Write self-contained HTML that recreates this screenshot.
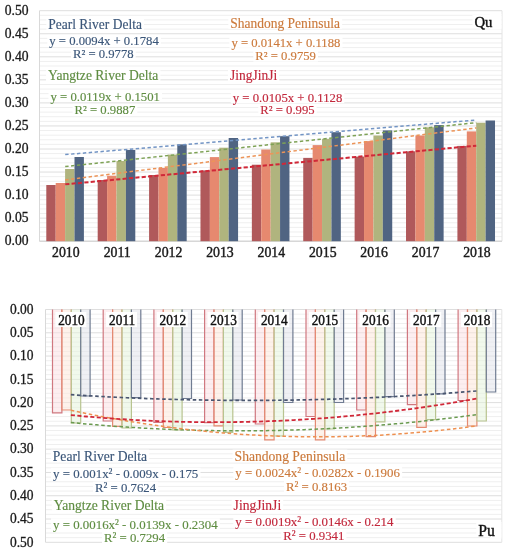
<!DOCTYPE html>
<html><head><meta charset="utf-8"><style>
html,body{margin:0;padding:0;background:#fff;}
svg{display:block;font-family:"Liberation Serif", serif;filter:blur(0.35px);}
.s{stroke-width:0.3px;}
</style></head><body>
<svg width="510" height="550" viewBox="0 0 510 550">
<rect width="510" height="550" fill="#fff"/>
<g id="top">
<line x1="39.5" x2="502.0" y1="241.20" y2="241.20" stroke="#dedede" stroke-width="1"/>
<line x1="39.5" x2="502.0" y1="236.59" y2="236.59" stroke="#efefef" stroke-width="1"/>
<line x1="39.5" x2="502.0" y1="231.98" y2="231.98" stroke="#efefef" stroke-width="1"/>
<line x1="39.5" x2="502.0" y1="227.37" y2="227.37" stroke="#efefef" stroke-width="1"/>
<line x1="39.5" x2="502.0" y1="222.76" y2="222.76" stroke="#efefef" stroke-width="1"/>
<line x1="39.5" x2="502.0" y1="218.15" y2="218.15" stroke="#dedede" stroke-width="1"/>
<line x1="39.5" x2="502.0" y1="213.54" y2="213.54" stroke="#efefef" stroke-width="1"/>
<line x1="39.5" x2="502.0" y1="208.93" y2="208.93" stroke="#efefef" stroke-width="1"/>
<line x1="39.5" x2="502.0" y1="204.32" y2="204.32" stroke="#efefef" stroke-width="1"/>
<line x1="39.5" x2="502.0" y1="199.71" y2="199.71" stroke="#efefef" stroke-width="1"/>
<line x1="39.5" x2="502.0" y1="195.10" y2="195.10" stroke="#dedede" stroke-width="1"/>
<line x1="39.5" x2="502.0" y1="190.49" y2="190.49" stroke="#efefef" stroke-width="1"/>
<line x1="39.5" x2="502.0" y1="185.88" y2="185.88" stroke="#efefef" stroke-width="1"/>
<line x1="39.5" x2="502.0" y1="181.27" y2="181.27" stroke="#efefef" stroke-width="1"/>
<line x1="39.5" x2="502.0" y1="176.66" y2="176.66" stroke="#efefef" stroke-width="1"/>
<line x1="39.5" x2="502.0" y1="172.05" y2="172.05" stroke="#dedede" stroke-width="1"/>
<line x1="39.5" x2="502.0" y1="167.44" y2="167.44" stroke="#efefef" stroke-width="1"/>
<line x1="39.5" x2="502.0" y1="162.83" y2="162.83" stroke="#efefef" stroke-width="1"/>
<line x1="39.5" x2="502.0" y1="158.22" y2="158.22" stroke="#efefef" stroke-width="1"/>
<line x1="39.5" x2="502.0" y1="153.61" y2="153.61" stroke="#efefef" stroke-width="1"/>
<line x1="39.5" x2="502.0" y1="149.00" y2="149.00" stroke="#dedede" stroke-width="1"/>
<line x1="39.5" x2="502.0" y1="144.39" y2="144.39" stroke="#efefef" stroke-width="1"/>
<line x1="39.5" x2="502.0" y1="139.78" y2="139.78" stroke="#efefef" stroke-width="1"/>
<line x1="39.5" x2="502.0" y1="135.17" y2="135.17" stroke="#efefef" stroke-width="1"/>
<line x1="39.5" x2="502.0" y1="130.56" y2="130.56" stroke="#efefef" stroke-width="1"/>
<line x1="39.5" x2="502.0" y1="125.95" y2="125.95" stroke="#dedede" stroke-width="1"/>
<line x1="39.5" x2="502.0" y1="121.34" y2="121.34" stroke="#efefef" stroke-width="1"/>
<line x1="39.5" x2="502.0" y1="116.73" y2="116.73" stroke="#efefef" stroke-width="1"/>
<line x1="39.5" x2="502.0" y1="112.12" y2="112.12" stroke="#efefef" stroke-width="1"/>
<line x1="39.5" x2="502.0" y1="107.51" y2="107.51" stroke="#efefef" stroke-width="1"/>
<line x1="39.5" x2="502.0" y1="102.90" y2="102.90" stroke="#dedede" stroke-width="1"/>
<line x1="39.5" x2="502.0" y1="98.29" y2="98.29" stroke="#efefef" stroke-width="1"/>
<line x1="39.5" x2="502.0" y1="93.68" y2="93.68" stroke="#efefef" stroke-width="1"/>
<line x1="39.5" x2="502.0" y1="89.07" y2="89.07" stroke="#efefef" stroke-width="1"/>
<line x1="39.5" x2="502.0" y1="84.46" y2="84.46" stroke="#efefef" stroke-width="1"/>
<line x1="39.5" x2="502.0" y1="79.85" y2="79.85" stroke="#dedede" stroke-width="1"/>
<line x1="39.5" x2="502.0" y1="75.24" y2="75.24" stroke="#efefef" stroke-width="1"/>
<line x1="39.5" x2="502.0" y1="70.63" y2="70.63" stroke="#efefef" stroke-width="1"/>
<line x1="39.5" x2="502.0" y1="66.02" y2="66.02" stroke="#efefef" stroke-width="1"/>
<line x1="39.5" x2="502.0" y1="61.41" y2="61.41" stroke="#efefef" stroke-width="1"/>
<line x1="39.5" x2="502.0" y1="56.80" y2="56.80" stroke="#dedede" stroke-width="1"/>
<line x1="39.5" x2="502.0" y1="52.19" y2="52.19" stroke="#efefef" stroke-width="1"/>
<line x1="39.5" x2="502.0" y1="47.58" y2="47.58" stroke="#efefef" stroke-width="1"/>
<line x1="39.5" x2="502.0" y1="42.97" y2="42.97" stroke="#efefef" stroke-width="1"/>
<line x1="39.5" x2="502.0" y1="38.36" y2="38.36" stroke="#efefef" stroke-width="1"/>
<line x1="39.5" x2="502.0" y1="33.75" y2="33.75" stroke="#dedede" stroke-width="1"/>
<line x1="39.5" x2="502.0" y1="29.14" y2="29.14" stroke="#efefef" stroke-width="1"/>
<line x1="39.5" x2="502.0" y1="24.53" y2="24.53" stroke="#efefef" stroke-width="1"/>
<line x1="39.5" x2="502.0" y1="19.92" y2="19.92" stroke="#efefef" stroke-width="1"/>
<line x1="39.5" x2="502.0" y1="15.31" y2="15.31" stroke="#efefef" stroke-width="1"/>
<line x1="39.5" x2="502.0" y1="10.70" y2="10.70" stroke="#dedede" stroke-width="1"/>
<line x1="39.5" x2="39.5" y1="10.7" y2="241.2" stroke="#d9d9d9" stroke-width="1"/>
<line x1="502.0" x2="502.0" y1="10.7" y2="241.2" stroke="#e4e4e4" stroke-width="1"/>
<line x1="39.5" x2="502.0" y1="241.2" y2="241.2" stroke="#d0d0d0" stroke-width="1"/>
<rect x="46.30" y="185.00" width="9.40" height="56.20" fill="#b0595b"/>
<rect x="55.70" y="183.00" width="9.40" height="58.20" fill="#e6896f"/>
<rect x="65.10" y="169.00" width="9.40" height="72.20" fill="#b0b47e"/>
<rect x="74.50" y="157.00" width="9.40" height="84.20" fill="#506482"/>
<rect x="97.69" y="180.00" width="9.40" height="61.20" fill="#b0595b"/>
<rect x="107.09" y="175.70" width="9.40" height="65.50" fill="#e6896f"/>
<rect x="116.49" y="161.00" width="9.40" height="80.20" fill="#b0b47e"/>
<rect x="125.89" y="150.00" width="9.40" height="91.20" fill="#506482"/>
<rect x="149.08" y="175.00" width="9.40" height="66.20" fill="#b0595b"/>
<rect x="158.48" y="168.00" width="9.40" height="73.20" fill="#e6896f"/>
<rect x="167.88" y="154.60" width="9.40" height="86.60" fill="#b0b47e"/>
<rect x="177.28" y="144.40" width="9.40" height="96.80" fill="#506482"/>
<rect x="200.47" y="170.40" width="9.40" height="70.80" fill="#b0595b"/>
<rect x="209.87" y="157.10" width="9.40" height="84.10" fill="#e6896f"/>
<rect x="219.27" y="147.70" width="9.40" height="93.50" fill="#b0b47e"/>
<rect x="228.67" y="138.00" width="9.40" height="103.20" fill="#506482"/>
<rect x="251.86" y="164.70" width="9.40" height="76.50" fill="#b0595b"/>
<rect x="261.26" y="149.50" width="9.40" height="91.70" fill="#e6896f"/>
<rect x="270.66" y="142.30" width="9.40" height="98.90" fill="#b0b47e"/>
<rect x="280.06" y="136.20" width="9.40" height="105.00" fill="#506482"/>
<rect x="303.24" y="157.90" width="9.40" height="83.30" fill="#b0595b"/>
<rect x="312.64" y="145.10" width="9.40" height="96.10" fill="#e6896f"/>
<rect x="322.04" y="138.80" width="9.40" height="102.40" fill="#b0b47e"/>
<rect x="331.44" y="132.20" width="9.40" height="109.00" fill="#506482"/>
<rect x="354.63" y="156.60" width="9.40" height="84.60" fill="#b0595b"/>
<rect x="364.03" y="141.10" width="9.40" height="100.10" fill="#e6896f"/>
<rect x="373.43" y="135.50" width="9.40" height="105.70" fill="#b0b47e"/>
<rect x="382.83" y="130.40" width="9.40" height="110.80" fill="#506482"/>
<rect x="406.02" y="151.30" width="9.40" height="89.90" fill="#b0595b"/>
<rect x="415.42" y="135.50" width="9.40" height="105.70" fill="#e6896f"/>
<rect x="424.82" y="127.30" width="9.40" height="113.90" fill="#b0b47e"/>
<rect x="434.22" y="125.10" width="9.40" height="116.10" fill="#506482"/>
<rect x="457.41" y="145.90" width="9.40" height="95.30" fill="#b0595b"/>
<rect x="466.81" y="131.40" width="9.40" height="109.80" fill="#e6896f"/>
<rect x="476.21" y="122.70" width="9.40" height="118.50" fill="#b0b47e"/>
<rect x="485.61" y="120.50" width="9.40" height="120.70" fill="#506482"/>
<line x1="65.19" y1="154.62" x2="476.31" y2="119.96" stroke="#7294c4" stroke-width="1.5" stroke-dasharray="3.4 2.5"/>
<line x1="65.19" y1="166.52" x2="476.31" y2="122.63" stroke="#7ea256" stroke-width="1.5" stroke-dasharray="3.4 2.5"/>
<line x1="65.19" y1="179.93" x2="476.31" y2="127.93" stroke="#ec9458" stroke-width="1.5" stroke-dasharray="3.4 2.5"/>
<line x1="65.19" y1="184.36" x2="476.31" y2="145.63" stroke="#d02838" stroke-width="2.0" stroke-dasharray="4.2 2.2"/>
<text transform="translate(28.6 245.10) scale(1 1.04)" text-anchor="end" font-size="13.6" fill="#1a1a1a" stroke="#1a1a1a" class="s">0.00</text>
<text transform="translate(28.6 222.05) scale(1 1.04)" text-anchor="end" font-size="13.6" fill="#1a1a1a" stroke="#1a1a1a" class="s">0.05</text>
<text transform="translate(28.6 199.00) scale(1 1.04)" text-anchor="end" font-size="13.6" fill="#1a1a1a" stroke="#1a1a1a" class="s">0.10</text>
<text transform="translate(28.6 175.95) scale(1 1.04)" text-anchor="end" font-size="13.6" fill="#1a1a1a" stroke="#1a1a1a" class="s">0.15</text>
<text transform="translate(28.6 152.90) scale(1 1.04)" text-anchor="end" font-size="13.6" fill="#1a1a1a" stroke="#1a1a1a" class="s">0.20</text>
<text transform="translate(28.6 129.85) scale(1 1.04)" text-anchor="end" font-size="13.6" fill="#1a1a1a" stroke="#1a1a1a" class="s">0.25</text>
<text transform="translate(28.6 106.80) scale(1 1.04)" text-anchor="end" font-size="13.6" fill="#1a1a1a" stroke="#1a1a1a" class="s">0.30</text>
<text transform="translate(28.6 83.75) scale(1 1.04)" text-anchor="end" font-size="13.6" fill="#1a1a1a" stroke="#1a1a1a" class="s">0.35</text>
<text transform="translate(28.6 60.70) scale(1 1.04)" text-anchor="end" font-size="13.6" fill="#1a1a1a" stroke="#1a1a1a" class="s">0.40</text>
<text transform="translate(28.6 37.65) scale(1 1.04)" text-anchor="end" font-size="13.6" fill="#1a1a1a" stroke="#1a1a1a" class="s">0.45</text>
<text transform="translate(28.6 14.60) scale(1 1.04)" text-anchor="end" font-size="13.6" fill="#1a1a1a" stroke="#1a1a1a" class="s">0.50</text>
<text transform="translate(65.79 257) scale(1 1.04)" text-anchor="middle" font-size="13.8" fill="#1a1a1a" stroke="#1a1a1a" style="stroke-width:0.4px">2010</text>
<text transform="translate(117.18 257) scale(1 1.04)" text-anchor="middle" font-size="13.8" fill="#1a1a1a" stroke="#1a1a1a" style="stroke-width:0.4px">2011</text>
<text transform="translate(168.57 257) scale(1 1.04)" text-anchor="middle" font-size="13.8" fill="#1a1a1a" stroke="#1a1a1a" style="stroke-width:0.4px">2012</text>
<text transform="translate(219.96 257) scale(1 1.04)" text-anchor="middle" font-size="13.8" fill="#1a1a1a" stroke="#1a1a1a" style="stroke-width:0.4px">2013</text>
<text transform="translate(271.35 257) scale(1 1.04)" text-anchor="middle" font-size="13.8" fill="#1a1a1a" stroke="#1a1a1a" style="stroke-width:0.4px">2014</text>
<text transform="translate(322.74 257) scale(1 1.04)" text-anchor="middle" font-size="13.8" fill="#1a1a1a" stroke="#1a1a1a" style="stroke-width:0.4px">2015</text>
<text transform="translate(374.13 257) scale(1 1.04)" text-anchor="middle" font-size="13.8" fill="#1a1a1a" stroke="#1a1a1a" style="stroke-width:0.4px">2016</text>
<text transform="translate(425.52 257) scale(1 1.04)" text-anchor="middle" font-size="13.8" fill="#1a1a1a" stroke="#1a1a1a" style="stroke-width:0.4px">2017</text>
<text transform="translate(476.91 257) scale(1 1.04)" text-anchor="middle" font-size="13.8" fill="#1a1a1a" stroke="#1a1a1a" style="stroke-width:0.4px">2018</text>
</g>
<g id="bottom">
<line x1="45.5" x2="501.8" y1="309.50" y2="309.50" stroke="#dedede" stroke-width="1"/>
<line x1="45.5" x2="501.8" y1="314.16" y2="314.16" stroke="#efefef" stroke-width="1"/>
<line x1="45.5" x2="501.8" y1="318.81" y2="318.81" stroke="#efefef" stroke-width="1"/>
<line x1="45.5" x2="501.8" y1="323.47" y2="323.47" stroke="#efefef" stroke-width="1"/>
<line x1="45.5" x2="501.8" y1="328.12" y2="328.12" stroke="#efefef" stroke-width="1"/>
<line x1="45.5" x2="501.8" y1="332.78" y2="332.78" stroke="#dedede" stroke-width="1"/>
<line x1="45.5" x2="501.8" y1="337.44" y2="337.44" stroke="#efefef" stroke-width="1"/>
<line x1="45.5" x2="501.8" y1="342.09" y2="342.09" stroke="#efefef" stroke-width="1"/>
<line x1="45.5" x2="501.8" y1="346.75" y2="346.75" stroke="#efefef" stroke-width="1"/>
<line x1="45.5" x2="501.8" y1="351.40" y2="351.40" stroke="#efefef" stroke-width="1"/>
<line x1="45.5" x2="501.8" y1="356.06" y2="356.06" stroke="#dedede" stroke-width="1"/>
<line x1="45.5" x2="501.8" y1="360.72" y2="360.72" stroke="#efefef" stroke-width="1"/>
<line x1="45.5" x2="501.8" y1="365.37" y2="365.37" stroke="#efefef" stroke-width="1"/>
<line x1="45.5" x2="501.8" y1="370.03" y2="370.03" stroke="#efefef" stroke-width="1"/>
<line x1="45.5" x2="501.8" y1="374.68" y2="374.68" stroke="#efefef" stroke-width="1"/>
<line x1="45.5" x2="501.8" y1="379.34" y2="379.34" stroke="#dedede" stroke-width="1"/>
<line x1="45.5" x2="501.8" y1="384.00" y2="384.00" stroke="#efefef" stroke-width="1"/>
<line x1="45.5" x2="501.8" y1="388.65" y2="388.65" stroke="#efefef" stroke-width="1"/>
<line x1="45.5" x2="501.8" y1="393.31" y2="393.31" stroke="#efefef" stroke-width="1"/>
<line x1="45.5" x2="501.8" y1="397.96" y2="397.96" stroke="#efefef" stroke-width="1"/>
<line x1="45.5" x2="501.8" y1="402.62" y2="402.62" stroke="#dedede" stroke-width="1"/>
<line x1="45.5" x2="501.8" y1="407.28" y2="407.28" stroke="#efefef" stroke-width="1"/>
<line x1="45.5" x2="501.8" y1="411.93" y2="411.93" stroke="#efefef" stroke-width="1"/>
<line x1="45.5" x2="501.8" y1="416.59" y2="416.59" stroke="#efefef" stroke-width="1"/>
<line x1="45.5" x2="501.8" y1="421.24" y2="421.24" stroke="#efefef" stroke-width="1"/>
<line x1="45.5" x2="501.8" y1="425.90" y2="425.90" stroke="#dedede" stroke-width="1"/>
<line x1="45.5" x2="501.8" y1="430.56" y2="430.56" stroke="#efefef" stroke-width="1"/>
<line x1="45.5" x2="501.8" y1="435.21" y2="435.21" stroke="#efefef" stroke-width="1"/>
<line x1="45.5" x2="501.8" y1="439.87" y2="439.87" stroke="#efefef" stroke-width="1"/>
<line x1="45.5" x2="501.8" y1="444.52" y2="444.52" stroke="#efefef" stroke-width="1"/>
<line x1="45.5" x2="501.8" y1="449.18" y2="449.18" stroke="#dedede" stroke-width="1"/>
<line x1="45.5" x2="501.8" y1="453.84" y2="453.84" stroke="#efefef" stroke-width="1"/>
<line x1="45.5" x2="501.8" y1="458.49" y2="458.49" stroke="#efefef" stroke-width="1"/>
<line x1="45.5" x2="501.8" y1="463.15" y2="463.15" stroke="#efefef" stroke-width="1"/>
<line x1="45.5" x2="501.8" y1="467.80" y2="467.80" stroke="#efefef" stroke-width="1"/>
<line x1="45.5" x2="501.8" y1="472.46" y2="472.46" stroke="#dedede" stroke-width="1"/>
<line x1="45.5" x2="501.8" y1="477.12" y2="477.12" stroke="#efefef" stroke-width="1"/>
<line x1="45.5" x2="501.8" y1="481.77" y2="481.77" stroke="#efefef" stroke-width="1"/>
<line x1="45.5" x2="501.8" y1="486.43" y2="486.43" stroke="#efefef" stroke-width="1"/>
<line x1="45.5" x2="501.8" y1="491.08" y2="491.08" stroke="#efefef" stroke-width="1"/>
<line x1="45.5" x2="501.8" y1="495.74" y2="495.74" stroke="#dedede" stroke-width="1"/>
<line x1="45.5" x2="501.8" y1="500.40" y2="500.40" stroke="#efefef" stroke-width="1"/>
<line x1="45.5" x2="501.8" y1="505.05" y2="505.05" stroke="#efefef" stroke-width="1"/>
<line x1="45.5" x2="501.8" y1="509.71" y2="509.71" stroke="#efefef" stroke-width="1"/>
<line x1="45.5" x2="501.8" y1="514.36" y2="514.36" stroke="#efefef" stroke-width="1"/>
<line x1="45.5" x2="501.8" y1="519.02" y2="519.02" stroke="#dedede" stroke-width="1"/>
<line x1="45.5" x2="501.8" y1="523.68" y2="523.68" stroke="#efefef" stroke-width="1"/>
<line x1="45.5" x2="501.8" y1="528.33" y2="528.33" stroke="#efefef" stroke-width="1"/>
<line x1="45.5" x2="501.8" y1="532.99" y2="532.99" stroke="#efefef" stroke-width="1"/>
<line x1="45.5" x2="501.8" y1="537.64" y2="537.64" stroke="#efefef" stroke-width="1"/>
<line x1="45.5" x2="501.8" y1="542.30" y2="542.30" stroke="#dedede" stroke-width="1"/>
<line x1="45.5" x2="45.5" y1="309.5" y2="542.3" stroke="#d9d9d9" stroke-width="1"/>
<line x1="501.8" x2="501.8" y1="309.5" y2="542.3" stroke="#e4e4e4" stroke-width="1"/>
<rect x="52.50" y="309.50" width="9.40" height="103.30" fill="#fcdde2" fill-opacity="0.5"/>
<path d="M52.50,309.50 V412.80 H61.90 V309.50" fill="none" stroke="#d07880" stroke-width="1.2"/>
<rect x="61.90" y="309.50" width="9.40" height="100.50" fill="#fde6d8" fill-opacity="0.5"/>
<path d="M61.90,309.50 V410.00 H71.30 V309.50" fill="none" stroke="#e48a72" stroke-width="1.2"/>
<rect x="71.30" y="309.50" width="9.40" height="113.50" fill="#e4f3da" fill-opacity="0.5"/>
<path d="M71.30,309.50 V423.00 H80.70 V309.50" fill="none" stroke="#b8c490" stroke-width="1.2"/>
<rect x="80.70" y="309.50" width="9.40" height="86.50" fill="#e0e2ea" fill-opacity="0.5"/>
<path d="M80.70,309.50 V396.00 H90.10 V309.50" fill="none" stroke="#707c92" stroke-width="1.2"/>
<rect x="103.20" y="309.50" width="9.40" height="111.50" fill="#fcdde2" fill-opacity="0.5"/>
<path d="M103.20,309.50 V421.00 H112.60 V309.50" fill="none" stroke="#d07880" stroke-width="1.2"/>
<rect x="112.60" y="309.50" width="9.40" height="116.90" fill="#fde6d8" fill-opacity="0.5"/>
<path d="M112.60,309.50 V426.40 H122.00 V309.50" fill="none" stroke="#e48a72" stroke-width="1.2"/>
<rect x="122.00" y="309.50" width="9.40" height="118.50" fill="#e4f3da" fill-opacity="0.5"/>
<path d="M122.00,309.50 V428.00 H131.40 V309.50" fill="none" stroke="#b8c490" stroke-width="1.2"/>
<rect x="131.40" y="309.50" width="9.40" height="88.20" fill="#e0e2ea" fill-opacity="0.5"/>
<path d="M131.40,309.50 V397.70 H140.80 V309.50" fill="none" stroke="#707c92" stroke-width="1.2"/>
<rect x="153.90" y="309.50" width="9.40" height="112.80" fill="#fcdde2" fill-opacity="0.5"/>
<path d="M153.90,309.50 V422.30 H163.30 V309.50" fill="none" stroke="#d07880" stroke-width="1.2"/>
<rect x="163.30" y="309.50" width="9.40" height="118.00" fill="#fde6d8" fill-opacity="0.5"/>
<path d="M163.30,309.50 V427.50 H172.70 V309.50" fill="none" stroke="#e48a72" stroke-width="1.2"/>
<rect x="172.70" y="309.50" width="9.40" height="120.50" fill="#e4f3da" fill-opacity="0.5"/>
<path d="M172.70,309.50 V430.00 H182.10 V309.50" fill="none" stroke="#b8c490" stroke-width="1.2"/>
<rect x="182.10" y="309.50" width="9.40" height="89.00" fill="#e0e2ea" fill-opacity="0.5"/>
<path d="M182.10,309.50 V398.50 H191.50 V309.50" fill="none" stroke="#707c92" stroke-width="1.2"/>
<rect x="204.60" y="309.50" width="9.40" height="113.10" fill="#fcdde2" fill-opacity="0.5"/>
<path d="M204.60,309.50 V422.60 H214.00 V309.50" fill="none" stroke="#d07880" stroke-width="1.2"/>
<rect x="214.00" y="309.50" width="9.40" height="116.30" fill="#fde6d8" fill-opacity="0.5"/>
<path d="M214.00,309.50 V425.80 H223.40 V309.50" fill="none" stroke="#e48a72" stroke-width="1.2"/>
<rect x="223.40" y="309.50" width="9.40" height="122.80" fill="#e4f3da" fill-opacity="0.5"/>
<path d="M223.40,309.50 V432.30 H232.80 V309.50" fill="none" stroke="#b8c490" stroke-width="1.2"/>
<rect x="232.80" y="309.50" width="9.40" height="90.50" fill="#e0e2ea" fill-opacity="0.5"/>
<path d="M232.80,309.50 V400.00 H242.20 V309.50" fill="none" stroke="#707c92" stroke-width="1.2"/>
<rect x="255.30" y="309.50" width="9.40" height="114.50" fill="#fcdde2" fill-opacity="0.5"/>
<path d="M255.30,309.50 V424.00 H264.70 V309.50" fill="none" stroke="#d07880" stroke-width="1.2"/>
<rect x="264.70" y="309.50" width="9.40" height="130.30" fill="#fde6d8" fill-opacity="0.5"/>
<path d="M264.70,309.50 V439.80 H274.10 V309.50" fill="none" stroke="#e48a72" stroke-width="1.2"/>
<rect x="274.10" y="309.50" width="9.40" height="126.50" fill="#e4f3da" fill-opacity="0.5"/>
<path d="M274.10,309.50 V436.00 H283.50 V309.50" fill="none" stroke="#b8c490" stroke-width="1.2"/>
<rect x="283.50" y="309.50" width="9.40" height="93.00" fill="#e0e2ea" fill-opacity="0.5"/>
<path d="M283.50,309.50 V402.50 H292.90 V309.50" fill="none" stroke="#707c92" stroke-width="1.2"/>
<rect x="306.00" y="309.50" width="9.40" height="107.00" fill="#fcdde2" fill-opacity="0.5"/>
<path d="M306.00,309.50 V416.50 H315.40 V309.50" fill="none" stroke="#d07880" stroke-width="1.2"/>
<rect x="315.40" y="309.50" width="9.40" height="130.30" fill="#fde6d8" fill-opacity="0.5"/>
<path d="M315.40,309.50 V439.80 H324.80 V309.50" fill="none" stroke="#e48a72" stroke-width="1.2"/>
<rect x="324.80" y="309.50" width="9.40" height="119.50" fill="#e4f3da" fill-opacity="0.5"/>
<path d="M324.80,309.50 V429.00 H334.20 V309.50" fill="none" stroke="#b8c490" stroke-width="1.2"/>
<rect x="334.20" y="309.50" width="9.40" height="93.00" fill="#e0e2ea" fill-opacity="0.5"/>
<path d="M334.20,309.50 V402.50 H343.60 V309.50" fill="none" stroke="#707c92" stroke-width="1.2"/>
<rect x="356.70" y="309.50" width="9.40" height="100.50" fill="#fcdde2" fill-opacity="0.5"/>
<path d="M356.70,309.50 V410.00 H366.10 V309.50" fill="none" stroke="#d07880" stroke-width="1.2"/>
<rect x="366.10" y="309.50" width="9.40" height="127.10" fill="#fde6d8" fill-opacity="0.5"/>
<path d="M366.10,309.50 V436.60 H375.50 V309.50" fill="none" stroke="#e48a72" stroke-width="1.2"/>
<rect x="375.50" y="309.50" width="9.40" height="112.40" fill="#e4f3da" fill-opacity="0.5"/>
<path d="M375.50,309.50 V421.90 H384.90 V309.50" fill="none" stroke="#b8c490" stroke-width="1.2"/>
<rect x="384.90" y="309.50" width="9.40" height="87.20" fill="#e0e2ea" fill-opacity="0.5"/>
<path d="M384.90,309.50 V396.70 H394.30 V309.50" fill="none" stroke="#707c92" stroke-width="1.2"/>
<rect x="407.40" y="309.50" width="9.40" height="95.10" fill="#fcdde2" fill-opacity="0.5"/>
<path d="M407.40,309.50 V404.60 H416.80 V309.50" fill="none" stroke="#d07880" stroke-width="1.2"/>
<rect x="416.80" y="309.50" width="9.40" height="117.80" fill="#fde6d8" fill-opacity="0.5"/>
<path d="M416.80,309.50 V427.30 H426.20 V309.50" fill="none" stroke="#e48a72" stroke-width="1.2"/>
<rect x="426.20" y="309.50" width="9.40" height="110.20" fill="#e4f3da" fill-opacity="0.5"/>
<path d="M426.20,309.50 V419.70 H435.60 V309.50" fill="none" stroke="#b8c490" stroke-width="1.2"/>
<rect x="435.60" y="309.50" width="9.40" height="84.40" fill="#e0e2ea" fill-opacity="0.5"/>
<path d="M435.60,309.50 V393.90 H445.00 V309.50" fill="none" stroke="#707c92" stroke-width="1.2"/>
<rect x="458.10" y="309.50" width="9.40" height="91.00" fill="#fcdde2" fill-opacity="0.5"/>
<path d="M458.10,309.50 V400.50 H467.50 V309.50" fill="none" stroke="#d07880" stroke-width="1.2"/>
<rect x="467.50" y="309.50" width="9.40" height="116.50" fill="#fde6d8" fill-opacity="0.5"/>
<path d="M467.50,309.50 V426.00 H476.90 V309.50" fill="none" stroke="#e48a72" stroke-width="1.2"/>
<rect x="476.90" y="309.50" width="9.40" height="111.50" fill="#e4f3da" fill-opacity="0.5"/>
<path d="M476.90,309.50 V421.00 H486.30 V309.50" fill="none" stroke="#b8c490" stroke-width="1.2"/>
<rect x="486.30" y="309.50" width="9.40" height="82.50" fill="#e0e2ea" fill-opacity="0.5"/>
<path d="M486.30,309.50 V392.00 H495.70 V309.50" fill="none" stroke="#707c92" stroke-width="1.2"/>
<polyline points="70.85,394.70 75.92,395.03 80.99,395.34 86.06,395.64 91.13,395.93 96.20,396.22 101.27,396.49 106.34,396.76 111.41,397.01 116.48,397.26 121.55,397.50 126.62,397.73 131.69,397.95 136.76,398.15 141.83,398.36 146.90,398.55 151.97,398.73 157.04,398.90 162.11,399.06 167.18,399.22 172.25,399.36 177.32,399.50 182.39,399.62 187.46,399.74 192.53,399.85 197.60,399.94 202.67,400.03 207.74,400.11 212.81,400.18 217.88,400.24 222.95,400.29 228.02,400.33 233.09,400.37 238.16,400.39 243.23,400.40 248.30,400.41 253.37,400.40 258.44,400.39 263.51,400.37 268.58,400.33 273.65,400.29 278.72,400.24 283.79,400.18 288.86,400.11 293.93,400.03 299.00,399.94 304.07,399.85 309.14,399.74 314.21,399.62 319.28,399.50 324.35,399.36 329.42,399.22 334.49,399.06 339.56,398.90 344.63,398.73 349.70,398.55 354.77,398.36 359.84,398.15 364.91,397.95 369.98,397.73 375.05,397.50 380.12,397.26 385.19,397.01 390.26,396.76 395.33,396.49 400.40,396.22 405.47,395.93 410.54,395.64 415.61,395.34 420.68,395.03 425.75,394.70 430.82,394.37 435.89,394.03 440.96,393.69 446.03,393.33 451.10,392.96 456.17,392.58 461.24,392.20 466.31,391.80 471.38,391.39 476.45,390.98" fill="none" stroke="#4a5670" stroke-width="1.7" stroke-dasharray="3.5 2.6"/>
<polyline points="70.85,422.50 75.92,422.99 80.99,423.47 86.06,423.93 91.13,424.37 96.20,424.81 101.27,425.22 106.34,425.62 111.41,426.01 116.48,426.38 121.55,426.74 126.62,427.08 131.69,427.41 136.76,427.72 141.83,428.02 146.90,428.30 151.97,428.57 157.04,428.82 162.11,429.05 167.18,429.28 172.25,429.49 177.32,429.68 182.39,429.86 187.46,430.02 192.53,430.17 197.60,430.30 202.67,430.42 207.74,430.52 212.81,430.61 217.88,430.68 222.95,430.74 228.02,430.79 233.09,430.81 238.16,430.83 243.23,430.83 248.30,430.81 253.37,430.78 258.44,430.74 263.51,430.68 268.58,430.60 273.65,430.51 278.72,430.40 283.79,430.28 288.86,430.15 293.93,430.00 299.00,429.83 304.07,429.65 309.14,429.46 314.21,429.25 319.28,429.03 324.35,428.79 329.42,428.53 334.49,428.26 339.56,427.98 344.63,427.68 349.70,427.37 354.77,427.04 359.84,426.69 364.91,426.34 369.98,425.96 375.05,425.57 380.12,425.17 385.19,424.75 390.26,424.32 395.33,423.87 400.40,423.41 405.47,422.93 410.54,422.44 415.61,421.93 420.68,421.41 425.75,420.87 430.82,420.32 435.89,419.75 440.96,419.17 446.03,418.57 451.10,417.96 456.17,417.33 461.24,416.69 466.31,416.04 471.38,415.37 476.45,414.68" fill="none" stroke="#6a9a50" stroke-width="1.5" stroke-dasharray="3.5 2.6"/>
<polyline points="70.85,410.26 75.92,411.33 80.99,412.39 86.06,413.42 91.13,414.44 96.20,415.42 101.27,416.39 106.34,417.33 111.41,418.26 116.48,419.16 121.55,420.03 126.62,420.89 131.69,421.72 136.76,422.53 141.83,423.32 146.90,424.08 151.97,424.83 157.04,425.55 162.11,426.25 167.18,426.92 172.25,427.58 177.32,428.21 182.39,428.82 187.46,429.40 192.53,429.97 197.60,430.51 202.67,431.03 207.74,431.53 212.81,432.00 217.88,432.45 222.95,432.88 228.02,433.29 233.09,433.68 238.16,434.04 243.23,434.38 248.30,434.70 253.37,435.00 258.44,435.27 263.51,435.52 268.58,435.75 273.65,435.96 278.72,436.14 283.79,436.30 288.86,436.44 293.93,436.56 299.00,436.66 304.07,436.73 309.14,436.78 314.21,436.81 319.28,436.81 324.35,436.80 329.42,436.76 334.49,436.69 339.56,436.61 344.63,436.50 349.70,436.38 354.77,436.23 359.84,436.05 364.91,435.86 369.98,435.64 375.05,435.40 380.12,435.14 385.19,434.85 390.26,434.54 395.33,434.21 400.40,433.86 405.47,433.49 410.54,433.09 415.61,432.67 420.68,432.23 425.75,431.77 430.82,431.28 435.89,430.77 440.96,430.24 446.03,429.69 451.10,429.11 456.17,428.51 461.24,427.89 466.31,427.25 471.38,426.59 476.45,425.90" fill="none" stroke="#ee9050" stroke-width="1.5" stroke-dasharray="3.5 2.6"/>
<polyline points="70.85,415.05 75.92,415.55 80.99,416.02 86.06,416.48 91.13,416.92 96.20,417.34 101.27,417.75 106.34,418.14 111.41,418.51 116.48,418.86 121.55,419.20 126.62,419.51 131.69,419.81 136.76,420.09 141.83,420.36 146.90,420.60 151.97,420.83 157.04,421.04 162.11,421.24 167.18,421.41 172.25,421.57 177.32,421.71 182.39,421.83 187.46,421.94 192.53,422.02 197.60,422.09 202.67,422.15 207.74,422.18 212.81,422.20 217.88,422.19 222.95,422.18 228.02,422.14 233.09,422.08 238.16,422.01 243.23,421.92 248.30,421.81 253.37,421.69 258.44,421.55 263.51,421.39 268.58,421.21 273.65,421.01 278.72,420.80 283.79,420.57 288.86,420.32 293.93,420.05 299.00,419.77 304.07,419.46 309.14,419.14 314.21,418.81 319.28,418.45 324.35,418.08 329.42,417.69 334.49,417.28 339.56,416.85 344.63,416.41 349.70,415.95 354.77,415.47 359.84,414.97 364.91,414.46 369.98,413.93 375.05,413.38 380.12,412.81 385.19,412.22 390.26,411.62 395.33,411.00 400.40,410.36 405.47,409.70 410.54,409.03 415.61,408.34 420.68,407.63 425.75,406.90 430.82,406.16 435.89,405.40 440.96,404.62 446.03,403.82 451.10,403.00 456.17,402.17 461.24,401.32 466.31,400.45 471.38,399.57 476.45,398.66" fill="none" stroke="#d02838" stroke-width="1.8" stroke-dasharray="4.1 2.4"/>
<rect x="55.35" y="312" width="31" height="15" fill="#fff"/>
<text transform="translate(71.45 325) scale(1 1.075)" text-anchor="middle" font-size="13.3" fill="#111" stroke="#111" style="stroke-width:0.4px">2010</text>
<rect x="106.05" y="312" width="31" height="15" fill="#fff"/>
<text transform="translate(122.15 325) scale(1 1.075)" text-anchor="middle" font-size="13.3" fill="#111" stroke="#111" style="stroke-width:0.4px">2011</text>
<rect x="156.75" y="312" width="31" height="15" fill="#fff"/>
<text transform="translate(172.85 325) scale(1 1.075)" text-anchor="middle" font-size="13.3" fill="#111" stroke="#111" style="stroke-width:0.4px">2012</text>
<rect x="207.45" y="312" width="31" height="15" fill="#fff"/>
<text transform="translate(223.55 325) scale(1 1.075)" text-anchor="middle" font-size="13.3" fill="#111" stroke="#111" style="stroke-width:0.4px">2013</text>
<rect x="258.15" y="312" width="31" height="15" fill="#fff"/>
<text transform="translate(274.25 325) scale(1 1.075)" text-anchor="middle" font-size="13.3" fill="#111" stroke="#111" style="stroke-width:0.4px">2014</text>
<rect x="308.85" y="312" width="31" height="15" fill="#fff"/>
<text transform="translate(324.95 325) scale(1 1.075)" text-anchor="middle" font-size="13.3" fill="#111" stroke="#111" style="stroke-width:0.4px">2015</text>
<rect x="359.55" y="312" width="31" height="15" fill="#fff"/>
<text transform="translate(375.65 325) scale(1 1.075)" text-anchor="middle" font-size="13.3" fill="#111" stroke="#111" style="stroke-width:0.4px">2016</text>
<rect x="410.25" y="312" width="31" height="15" fill="#fff"/>
<text transform="translate(426.35 325) scale(1 1.075)" text-anchor="middle" font-size="13.3" fill="#111" stroke="#111" style="stroke-width:0.4px">2017</text>
<rect x="460.95" y="312" width="31" height="15" fill="#fff"/>
<text transform="translate(477.05 325) scale(1 1.075)" text-anchor="middle" font-size="13.3" fill="#111" stroke="#111" style="stroke-width:0.4px">2018</text>
<text transform="translate(33.6 313.80) scale(1 1.02)" text-anchor="end" font-size="13.5" fill="#1a1a1a" stroke="#1a1a1a" class="s">0.00</text>
<text transform="translate(33.6 337.08) scale(1 1.02)" text-anchor="end" font-size="13.5" fill="#1a1a1a" stroke="#1a1a1a" class="s">0.05</text>
<text transform="translate(33.6 360.36) scale(1 1.02)" text-anchor="end" font-size="13.5" fill="#1a1a1a" stroke="#1a1a1a" class="s">0.10</text>
<text transform="translate(33.6 383.64) scale(1 1.02)" text-anchor="end" font-size="13.5" fill="#1a1a1a" stroke="#1a1a1a" class="s">0.15</text>
<text transform="translate(33.6 406.92) scale(1 1.02)" text-anchor="end" font-size="13.5" fill="#1a1a1a" stroke="#1a1a1a" class="s">0.20</text>
<text transform="translate(33.6 430.20) scale(1 1.02)" text-anchor="end" font-size="13.5" fill="#1a1a1a" stroke="#1a1a1a" class="s">0.25</text>
<text transform="translate(33.6 453.48) scale(1 1.02)" text-anchor="end" font-size="13.5" fill="#1a1a1a" stroke="#1a1a1a" class="s">0.30</text>
<text transform="translate(33.6 476.76) scale(1 1.02)" text-anchor="end" font-size="13.5" fill="#1a1a1a" stroke="#1a1a1a" class="s">0.35</text>
<text transform="translate(33.6 500.04) scale(1 1.02)" text-anchor="end" font-size="13.5" fill="#1a1a1a" stroke="#1a1a1a" class="s">0.40</text>
<text transform="translate(33.6 523.32) scale(1 1.02)" text-anchor="end" font-size="13.5" fill="#1a1a1a" stroke="#1a1a1a" class="s">0.45</text>
<text transform="translate(33.6 546.60) scale(1 1.02)" text-anchor="end" font-size="13.5" fill="#1a1a1a" stroke="#1a1a1a" class="s">0.50</text>
</g>
<rect x="46.30" y="17.90" width="97.72" height="12.00" fill="#fff"/>
<rect x="47.30" y="34.84" width="113.57" height="11.36" fill="#fff"/>
<rect x="71.00" y="48.04" width="64.72" height="11.36" fill="#fff"/>
<rect x="46.00" y="69.02" width="114.41" height="12.08" fill="#fff"/>
<rect x="48.50" y="90.40" width="113.53" height="11.40" fill="#fff"/>
<rect x="72.60" y="103.84" width="64.72" height="11.36" fill="#fff"/>
<rect x="228.30" y="16.80" width="113.87" height="12.00" fill="#fff"/>
<rect x="229.40" y="36.44" width="113.10" height="11.36" fill="#fff"/>
<rect x="253.30" y="50.24" width="64.72" height="11.36" fill="#fff"/>
<rect x="228.00" y="69.20" width="51.26" height="12.00" fill="#fff"/>
<rect x="230.80" y="91.80" width="113.53" height="11.40" fill="#fff"/>
<rect x="258.30" y="104.14" width="58.37" height="11.36" fill="#fff"/>
<rect x="490" y="14" width="11.5" height="15.5" fill="#fff"/>
<rect x="472.50" y="14.84" width="21.97" height="12.96" fill="#fff"/>
<rect x="50.80" y="449.62" width="98.41" height="12.08" fill="#fff"/>
<rect x="51.00" y="467.78" width="149.51" height="11.52" fill="#fff"/>
<rect x="93.00" y="481.66" width="65.19" height="11.44" fill="#fff"/>
<rect x="51.80" y="498.62" width="114.41" height="12.08" fill="#fff"/>
<rect x="51.00" y="518.28" width="168.86" height="11.52" fill="#fff"/>
<rect x="102.00" y="531.76" width="65.19" height="11.44" fill="#fff"/>
<rect x="232.60" y="449.62" width="114.69" height="12.08" fill="#fff"/>
<rect x="233.30" y="467.08" width="168.86" height="11.52" fill="#fff"/>
<rect x="284.00" y="480.56" width="65.19" height="11.44" fill="#fff"/>
<rect x="231.60" y="498.62" width="51.61" height="12.08" fill="#fff"/>
<rect x="233.30" y="515.58" width="162.41" height="11.52" fill="#fff"/>
<rect x="281.20" y="529.26" width="65.19" height="11.44" fill="#fff"/>
<rect x="490" y="522" width="11.5" height="16.5" fill="#fff"/>
<rect x="476.30" y="522.94" width="20.58" height="13.76" fill="#fff"/>
<text transform="translate(48.3 28.7) scale(1 1.035)" font-size="13.5" fill="#3b5679" stroke="#3b5679" text-anchor="start" style="stroke-width:0.15px">Pearl River Delta</text>
<text transform="translate(49.3 45.0) scale(1 1.035)" font-size="12.7" fill="#3b5679" stroke="#3b5679" text-anchor="start" style="stroke-width:0.15px">y = 0.0094x + 0.1784</text>
<text transform="translate(73.0 58.2) scale(1 1.035)" font-size="12.7" fill="#3b5679" stroke="#3b5679" text-anchor="start" style="stroke-width:0.15px">R² = 0.9778</text>
<text transform="translate(48.0 79.9) scale(1 1.035)" font-size="13.6" fill="#5f8d42" stroke="#5f8d42" text-anchor="start" style="stroke-width:0.15px">Yangtze River Delta</text>
<text transform="translate(50.5 100.6) scale(1 1.035)" font-size="12.75" fill="#5f8d42" stroke="#5f8d42" text-anchor="start" style="stroke-width:0.15px">y = 0.0119x + 0.1501</text>
<text transform="translate(74.6 114.0) scale(1 1.035)" font-size="12.7" fill="#5f8d42" stroke="#5f8d42" text-anchor="start" style="stroke-width:0.15px">R² = 0.9887</text>
<text transform="translate(230.3 27.6) scale(1 1.035)" font-size="13.5" fill="#cc7a3c" stroke="#cc7a3c" text-anchor="start" style="stroke-width:0.15px">Shandong Peninsula</text>
<text transform="translate(231.4 46.6) scale(1 1.035)" font-size="12.7" fill="#cc7a3c" stroke="#cc7a3c" text-anchor="start" style="stroke-width:0.15px">y = 0.0141x + 0.1188</text>
<text transform="translate(255.3 60.4) scale(1 1.035)" font-size="12.7" fill="#cc7a3c" stroke="#cc7a3c" text-anchor="start" style="stroke-width:0.15px">R² = 0.9759</text>
<text transform="translate(230.0 80.0) scale(1 1.035)" font-size="13.5" fill="#c2283c" stroke="#c2283c" text-anchor="start" style="stroke-width:0.15px">JingJinJi</text>
<text transform="translate(232.8 102.0) scale(1 1.035)" font-size="12.75" fill="#c2283c" stroke="#c2283c" text-anchor="start" style="stroke-width:0.15px">y = 0.0105x + 0.1128</text>
<text transform="translate(260.3 114.3) scale(1 1.035)" font-size="12.7" fill="#c2283c" stroke="#c2283c" text-anchor="start" style="stroke-width:0.15px">R² = 0.995</text>
<text transform="translate(474.5 26.6) scale(1 1.035)" font-size="14.7" fill="#111" stroke="#111" text-anchor="start" style="stroke-width:0.4px">Qu</text>
<text transform="translate(52.8 460.5) scale(1 1.035)" font-size="13.6" fill="#3b5679" stroke="#3b5679" text-anchor="start" style="stroke-width:0.15px">Pearl River Delta</text>
<text transform="translate(53.0 478.1) scale(1 1.035)" font-size="12.9" fill="#3b5679" stroke="#3b5679" text-anchor="start" style="stroke-width:0.15px">y = 0.001x² - 0.009x - 0.175</text>
<text transform="translate(95.0 491.9) scale(1 1.035)" font-size="12.8" fill="#3b5679" stroke="#3b5679" text-anchor="start" style="stroke-width:0.15px">R² = 0.7624</text>
<text transform="translate(53.8 509.5) scale(1 1.035)" font-size="13.6" fill="#5f8d42" stroke="#5f8d42" text-anchor="start" style="stroke-width:0.15px">Yangtze River Delta</text>
<text transform="translate(53.0 528.6) scale(1 1.035)" font-size="12.9" fill="#5f8d42" stroke="#5f8d42" text-anchor="start" style="stroke-width:0.15px">y = 0.0016x² - 0.0139x - 0.2304</text>
<text transform="translate(104.0 542.0) scale(1 1.035)" font-size="12.8" fill="#5f8d42" stroke="#5f8d42" text-anchor="start" style="stroke-width:0.15px">R² = 0.7294</text>
<text transform="translate(234.6 460.5) scale(1 1.035)" font-size="13.6" fill="#cc7a3c" stroke="#cc7a3c" text-anchor="start" style="stroke-width:0.15px">Shandong Peninsula</text>
<text transform="translate(235.3 477.4) scale(1 1.035)" font-size="12.9" fill="#cc7a3c" stroke="#cc7a3c" text-anchor="start" style="stroke-width:0.15px">y = 0.0024x² - 0.0282x - 0.1906</text>
<text transform="translate(286.0 490.8) scale(1 1.035)" font-size="12.8" fill="#cc7a3c" stroke="#cc7a3c" text-anchor="start" style="stroke-width:0.15px">R² = 0.8163</text>
<text transform="translate(233.6 509.5) scale(1 1.035)" font-size="13.6" fill="#c2283c" stroke="#c2283c" text-anchor="start" style="stroke-width:0.15px">JingJinJi</text>
<text transform="translate(235.3 525.9) scale(1 1.035)" font-size="12.9" fill="#c2283c" stroke="#c2283c" text-anchor="start" style="stroke-width:0.15px">y = 0.0019x² - 0.0146x - 0.214</text>
<text transform="translate(283.2 539.5) scale(1 1.035)" font-size="12.8" fill="#c2283c" stroke="#c2283c" text-anchor="start" style="stroke-width:0.15px">R² = 0.9341</text>
<text transform="translate(478.3 535.5) scale(1 1.035)" font-size="15.7" fill="#111" stroke="#111" text-anchor="start" style="stroke-width:0.4px">Pu</text>
</svg></body></html>
